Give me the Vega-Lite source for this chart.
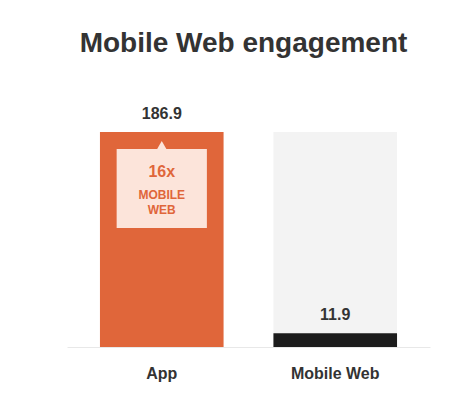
{
  "$schema": "https://vega.github.io/schema/vega-lite/v6.json",
  "autosize": {"type": "none"},
  "padding": {"left": 67, "top": 132, "right": 44, "bottom": 50},
  "width": 363,
  "height": 215,
  "background": "#ffffff",
  "config": {"view": {"stroke": null}, "font": "Liberation Sans"},
  "title": {
    "text": "Mobile Web engagement",
    "fontSize": 28,
    "fontWeight": "bold",
    "color": "#333333",
    "anchor": "middle",
    "baseline": "alphabetic",
    "offset": 26,
    "dx": -5
  },
  "datasets": {
    "bars": [
      {"platform": "App", "value": 186.9},
      {"platform": "Mobile Web", "value": 11.9}
    ],
    "callout": [
      {"platform": "App", "top": 172.1, "bottom": 103.4, "pointer": 175.5}
    ],
    "calloutText": [
      {"platform": "App", "label": "MOBILE", "v": 132.1},
      {"platform": "App", "label": "WEB", "v": 118.9}
    ]
  },
  "encoding": {
    "x": {
      "field": "platform",
      "type": "nominal",
      "scale": {"domain": ["App", "Mobile Web"], "paddingInner": 0.2874, "paddingOuter": 0.19},
      "axis": {
        "title": null,
        "labelAngle": 0,
        "labelFontSize": 16,
        "labelFontWeight": "bold",
        "labelColor": "#333333",
        "labelPadding": 18,
        "ticks": false,
        "domainColor": "#e8e8e8",
        "domainWidth": 1
      }
    }
  },
  "layer": [
    {
      "data": {"name": "bars"},
      "transform": [
        {"joinaggregate": [{"op": "max", "field": "value", "as": "maxValue"}]},
        {"filter": "datum.platform === 'Mobile Web'"}
      ],
      "mark": {"type": "bar", "color": "#f3f3f3"},
      "encoding": {
        "y": {"field": "maxValue", "type": "quantitative", "scale": {"domain": [0, 186.9], "nice": false}, "axis": null}
      }
    },
    {
      "data": {"name": "bars"},
      "mark": {"type": "bar"},
      "encoding": {
        "y": {"field": "value", "type": "quantitative", "scale": {"domain": [0, 186.9], "nice": false}, "axis": null},
        "color": {
          "field": "platform",
          "type": "nominal",
          "scale": {"domain": ["App", "Mobile Web"], "range": ["#e0663a", "#1c1c1c"]},
          "legend": null
        }
      }
    },
    {
      "data": {"name": "bars"},
      "mark": {"type": "text", "baseline": "bottom", "dy": -10, "fontSize": 16, "fontWeight": "bold", "color": "#333333"},
      "encoding": {
        "y": {"field": "value", "type": "quantitative"},
        "text": {"field": "value", "type": "quantitative", "format": ".1f"}
      }
    },
    {
      "data": {"name": "callout"},
      "mark": {"type": "bar", "color": "#fce4da", "width": {"band": 0.73}},
      "encoding": {
        "y": {"field": "top", "type": "quantitative"},
        "y2": {"field": "bottom"}
      }
    },
    {
      "data": {"name": "callout"},
      "mark": {"type": "point", "shape": "triangle-up", "filled": true, "color": "#fce4da", "opacity": 1, "size": 90},
      "encoding": {
        "y": {"field": "pointer", "type": "quantitative"}
      }
    },
    {
      "data": {"name": "callout"},
      "mark": {"type": "text", "baseline": "middle", "fontSize": 16, "fontWeight": "bold", "color": "#e0663a", "text": "16x"},
      "encoding": {
        "y": {"datum": 152.1, "type": "quantitative"}
      }
    },
    {
      "data": {"name": "calloutText"},
      "mark": {"type": "text", "baseline": "middle", "fontSize": 12, "fontWeight": "bold", "color": "#e0663a"},
      "encoding": {
        "y": {"field": "v", "type": "quantitative"},
        "text": {"field": "label"}
      }
    }
  ]
}
